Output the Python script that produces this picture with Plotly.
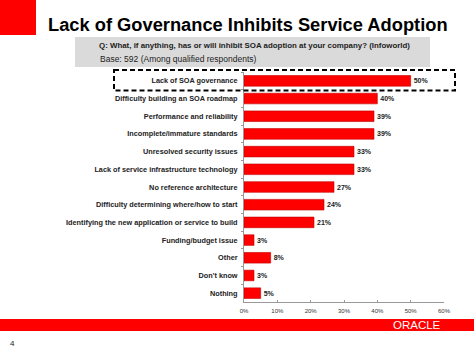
import plotly.graph_objects as go

categories = [
    "Lack of SOA governance",
    "Difficulty building an SOA roadmap",
    "Performance and reliability",
    "Incomplete/immature standards",
    "Unresolved security issues",
    "Lack of service infrastructure technology",
    "No reference architecture",
    "Difficulty determining where/how to start",
    "Identifying the new application or service to build",
    "Funding/budget issue",
    "Other",
    "Don't know",
    "Nothing",
]
values = [50, 40, 39, 39, 33, 33, 27, 24, 21, 3, 8, 3, 5]
x_ticks = [0, 10, 20, 30, 40, 50, 60]
x_tick_labels = ["0%", "10%", "20%", "30%", "40%", "50%", "60%"]

W, H = 474, 355
L, R, T, B = 244, 30, 72, 53
PW = W - L - R
PH = H - T - B


def px(x):
    return (x - L) / PW


def py(y):
    return (H - B - y) / PH


FONT = "Liberation Sans, Arial, sans-serif"

fig = go.Figure(
    go.Bar(
        x=values,
        y=categories,
        orientation="h",
        marker=dict(color="#FF0000", line=dict(color="#C00000", width=0.6)),
        width=0.6,
        text=[f"{v}%" for v in values],
        textposition="outside",
        textfont=dict(family=FONT, size=7, color="#222222", weight="bold"),
        cliponaxis=False,
        hoverinfo="skip",
    )
)

fig.update_layout(
    width=W,
    height=H,
    margin=dict(l=L, r=R, t=T, b=B),
    paper_bgcolor="white",
    plot_bgcolor="white",
    showlegend=False,
    font=dict(family=FONT),
    xaxis=dict(
        range=[0, 60],
        tickvals=x_ticks,
        ticktext=x_tick_labels,
        showgrid=False,
        zeroline=False,
        showline=True,
        linecolor="#999999",
        linewidth=1,
        ticks="inside",
        ticklen=2,
        tickcolor="#999999",
        tickfont=dict(family=FONT, size=6, color="#333333"),
        ticklabelstandoff=3,
        fixedrange=True,
    ),
    yaxis=dict(
        autorange="reversed",
        showgrid=False,
        zeroline=False,
        showline=True,
        linecolor="#999999",
        linewidth=1,
        ticks="outside",
        ticklen=2,
        tickcolor="#999999",
        tickson="boundaries",
        tickfont=dict(family=FONT, size=7.3, color="#222222", weight="bold"),
        ticklabelstandoff=4,
        fixedrange=True,
    ),
    bargap=0.4,
)

shapes = [
    # red square top-left
    dict(type="rect", xref="paper", yref="paper", x0=px(0), x1=px(36), y0=py(0), y1=py(35),
         fillcolor="#FF0000", line=dict(width=0), layer="below"),
    # grey question box
    dict(type="rect", xref="paper", yref="paper", x0=px(75), x1=px(430), y0=py(37), y1=py(67),
         fillcolor="#DADADA", line=dict(width=0), layer="below"),
    # dashed highlight box
    dict(type="rect", xref="paper", yref="paper", x0=px(114), x1=px(455), y0=py(70), y1=py(90.5),
         fillcolor="rgba(0,0,0,0)", line=dict(color="black", width=2, dash="5px,3px")),
    # red footer band
    dict(type="rect", xref="paper", yref="paper", x0=px(0), x1=px(W), y0=py(319), y1=py(331),
         fillcolor="#FF0000", line=dict(width=0), layer="below"),
]

annotations = [
    dict(text="<b>Lack of Governance Inhibits Service Adoption</b>", xref="paper", yref="paper",
         x=px(46), y=py(24), xanchor="left", yanchor="middle", showarrow=False,
         font=dict(family=FONT, size=18.3, color="black")),
    dict(text="<b>Q: What, if anything, has or will inhibit SOA adoption at your company? (Infoworld)</b>",
         xref="paper", yref="paper", x=px(97), y=py(45), xanchor="left", yanchor="middle",
         showarrow=False, font=dict(family=FONT, size=7.9, color="#222222")),
    dict(text="Base: 592 (Among qualified respondents)", xref="paper", yref="paper",
         x=px(98), y=py(59), xanchor="left", yanchor="middle", showarrow=False,
         font=dict(family=FONT, size=8.5, color="#222222")),
    dict(text="ORACLE", xref="paper", yref="paper", x=px(443), y=py(325), xanchor="right",
         yanchor="middle", showarrow=False, font=dict(family=FONT, size=11.5, color="white")),
    dict(text="4", xref="paper", yref="paper", x=px(8), y=py(343), xanchor="left",
         yanchor="middle", showarrow=False, font=dict(family=FONT, size=8, color="#222222")),
]

fig.update_layout(shapes=shapes, annotations=annotations)
fig.write_html(
    "out.html",
    config={"displayModeBar": False, "staticPlot": True},
    post_script="document.body.style.margin='0';document.body.style.padding='0';",
)
